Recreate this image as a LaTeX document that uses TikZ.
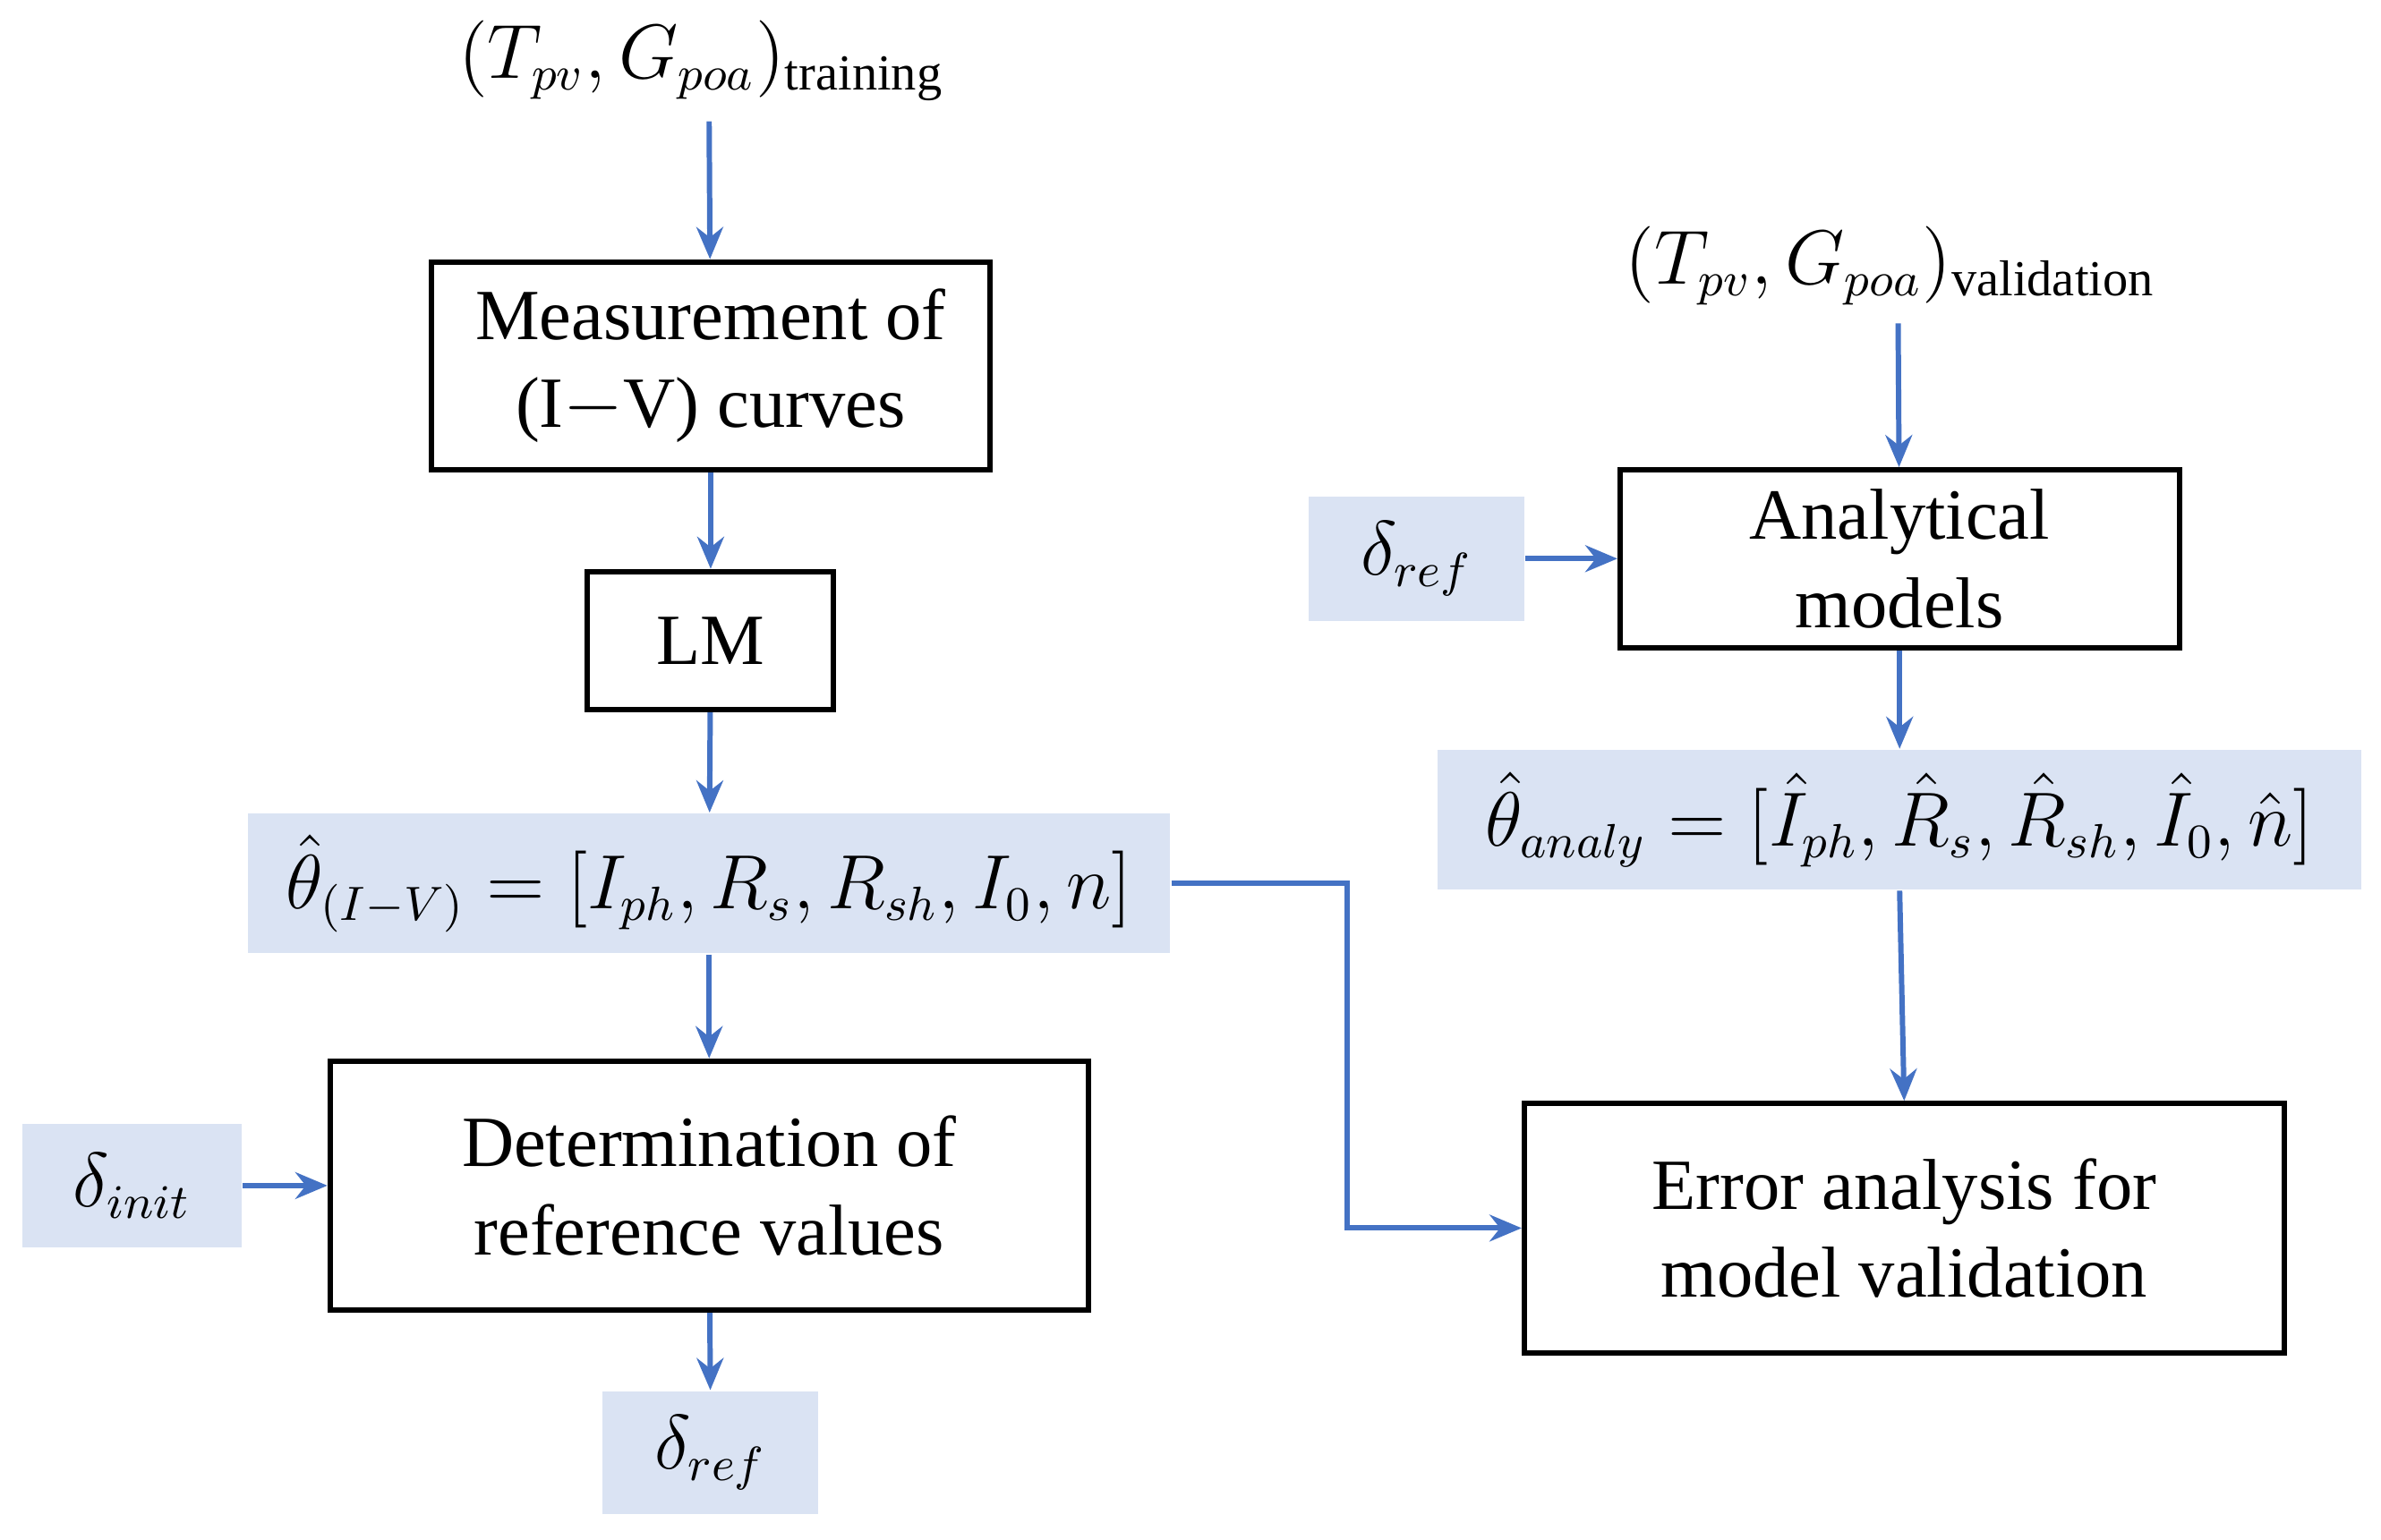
\documentclass[tikz,border=0pt]{standalone}
\usepackage{fontspec}
\setmainfont{Liberation Serif}
\usetikzlibrary{arrows.meta}
\definecolor{lineblue}{HTML}{4472C4}
\definecolor{fillblue}{HTML}{DAE3F3}
\begin{document}
\begin{tikzpicture}[x=0.01cm,y=-0.01cm,
    font=\fontsize{13.5}{16.5}\selectfont,
    box/.style={draw,line width=1pt,align=center,inner sep=0pt},
    param/.style={fill=fillblue,inner sep=0pt},
    flow/.style={draw=lineblue,line width=1pt,-{Stealth[length=6pt,width=5pt]}}]
    \useasboundingbox (0,0) rectangle (1568,1014);
    % left column
    \node (train) at (462,40) {$(T_{pv},G_{poa})_{\mathrm{training}}$};
    \node[box,minimum width=3.68cm,minimum height=1.37cm] (meas) at (468,241) {Measurement of\\(I$-$V) curves};
    \node[box,minimum width=1.62cm,minimum height=0.91cm] (lm) at (468,422) {LM};
    \node[param,minimum width=6.07cm,minimum height=0.92cm] (thiv) at (467,582)
        {$\hat{\theta}_{(I-V)}=[I_{ph},R_{s},R_{sh},I_{0},n]$};
    \node[box,minimum width=4.99cm,minimum height=1.64cm] (det) at (467,781) {Determination of\\reference values};
    \node[param,minimum width=1.44cm,minimum height=0.81cm] (dinit) at (87,781) {$\delta_{init}$};
    \node[param,minimum width=1.42cm,minimum height=0.81cm] (dref) at (468,957) {$\delta_{ref}$};
    % right column
    \node (valid) at (1245,175) {$(T_{pv},G_{poa})_{\mathrm{validation}}$};
    \node[box,minimum width=3.68cm,minimum height=1.17cm] (ana) at (1251,368) {Analytical\\models};
    \node[param,minimum width=1.42cm,minimum height=0.82cm] (drefb) at (933,368) {$\delta_{ref}$};
    \node[param,minimum width=6.08cm,minimum height=0.92cm] (than) at (1251,540)
        {$\hat{\theta}_{analy}=[\hat{I}_{ph},\hat{R}_{s},\hat{R}_{sh},\hat{I}_{0},\hat{n}]$};
    \node[box,minimum width=5.00cm,minimum height=1.64cm] (err) at (1254,809) {Error analysis for\\model validation};
    \coordinate (trainend) at (467,80);
    \coordinate (validend) at (1250,213);
    % connectors
    \draw[flow] (trainend) -- (meas);
    \draw[flow] (meas) -- (lm);
    \draw[flow] (lm) -- (thiv);
    \draw[flow] (thiv) -- (det);
    \draw[flow] (dinit) -- (det);
    \draw[flow] (det) -- (dref);
    \draw[flow] (validend) -- (ana);
    \draw[flow] (drefb) -- (ana);
    \draw[flow] (ana) -- (than);
    \draw[flow] (than.south) -- (err.north);
    \draw[flow] (thiv.east) -- (887,582) |- (err.west);
\end{tikzpicture}
\end{document}
